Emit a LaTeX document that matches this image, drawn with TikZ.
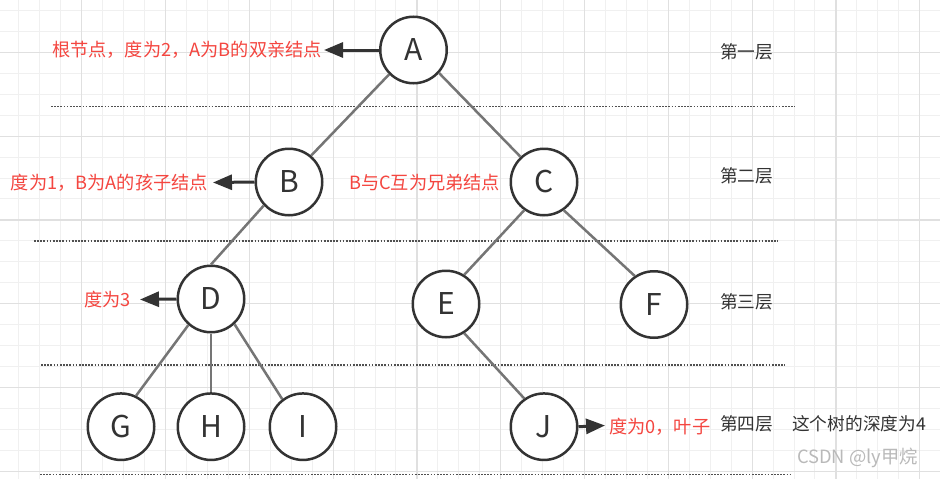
\documentclass[tikz,border=0pt]{standalone}
\usepackage{fontspec}
\setmainfont{Noto Sans CJK SC}
\usetikzlibrary{arrows.meta}
\definecolor{redtxt}{RGB}{244,70,64}
\definecolor{darktxt}{RGB}{51,51,51}
\definecolor{minorgrid}{RGB}{240,240,240}
\definecolor{majorgrid}{RGB}{224,224,224}
\definecolor{edgegray}{RGB}{117,117,117}
\definecolor{wmgray}{RGB}{185,185,185}
\definecolor{dotgray}{RGB}{80,80,80}
\tikzset{
  treenode/.style={circle, draw=darktxt, line width=2.5pt, fill=white, minimum size=66.5pt, inner sep=0pt, font=\fontsize{30}{30}\selectfont, text=darktxt},
  treeedge/.style={draw=edgegray, line width=2.5pt},
  notearrow/.style={draw=darktxt, line width=3pt, -{Triangle[length=19pt,width=15pt]}},
  redlabel/.style={text=redtxt, inner sep=0pt, font=\fontsize{18.2}{18}\selectfont},
  layerlabel/.style={text=darktxt, inner sep=0pt, font=\fontsize{17.7}{18}\selectfont},
  wmlabel/.style={text=wmgray, inner sep=0pt, font=\fontsize{18.3}{18}\selectfont},
  levelline/.style={draw=dotgray, line width=1.1pt, dash pattern=on 1.7pt off 1.45pt},
}
\begin{document}
\begin{tikzpicture}[x=1pt,y=-1pt]
\useasboundingbox (0,0) rectangle (940,479);
\fill[white] (0,0) rectangle (940,479);
% grid
\foreach \i in {0,...,45} {
  \draw[minorgrid, line width=1pt] ({-2.1+20.95*\i},0) -- ({-2.1+20.95*\i},479);
}
\foreach \i in {0,...,23} {
  \draw[minorgrid, line width=1pt] (0,{10.4+20.95*\i}) -- (940,{10.4+20.95*\i});
}
\foreach \i in {0,...,11} {
  \draw[majorgrid, line width=1.2pt] ({-2.1+83.8*\i},0) -- ({-2.1+83.8*\i},479);
}
\foreach \i in {0,...,5} {
  \draw[majorgrid, line width=1.2pt] (0,{52.3+83.8*\i}) -- (940,{52.3+83.8*\i});
}
% level separators
\draw[levelline] (51,106.5) -- (795,106.5);
\draw[levelline] (34,241) -- (778,241);
\draw[levelline] (41,365) -- (785,365);
\draw[levelline] (40,474.3) -- (791,474.3);
% nodes
\node[treenode] (A) at (413.5,50) {A};
\node[treenode] (B) at (289,182) {B};
\node[treenode] (C) at (544,182) {C};
\node[treenode] (D) at (211,299) {D};
\node[treenode] (E) at (446,304) {E};
\node[treenode] (F) at (654,304.5) {F};
\node[treenode] (G) at (121,426.7) {G};
\node[treenode] (H) at (211,426.7) {H};
\node[treenode] (I) at (303,426.7) {I};
\node[treenode] (J) at (544,426.7) {J};
% edges
\draw[treeedge] (A.225) -- (B.50);
\draw[treeedge] (A.318) -- (C.133);
\draw[treeedge] (B.223) -- (D.90);
\draw[treeedge] (C.235) -- (E.58);
\draw[treeedge] (C.305) -- (F.124);
\draw[treeedge] (D.229) -- (G.64);
\draw[treeedge] (D.270) -- (H.90);
\draw[treeedge] (D.313) -- (I.127);
\draw[treeedge] (E.302) -- (J.125);
% annotation arrows
\coordinate (tA) at (324,50);
\coordinate (tB) at (213,182.5);
\coordinate (tD) at (140,299.5);
\coordinate (tJ) at (605,425.5);
\draw[notearrow] (A.west) -- (tA);
\draw[notearrow] (B.west) -- (tB);
\draw[notearrow] (D.west) -- (tD);
\draw[notearrow] (J.east) -- (tJ);
% red labels
\node[redlabel, anchor=east] (lA) at (322,50) {根节点，度为2，A为B的双亲结点};
\node[redlabel, anchor=east] (lB) at (208,183) {度为1，B为A的孩子结点};
\node[redlabel, anchor=west] (lBC) at (349,183) {B与C互为兄弟结点};
\node[redlabel, anchor=east] (lD) at (131,300) {度为3};
\node[redlabel, anchor=west] (lJ) at (609,427) {度为0，叶子};
% layer labels
\node[layerlabel, anchor=west] (L1) at (720,52) {第一层};
\node[layerlabel, anchor=west] (L2) at (720,176) {第二层};
\node[layerlabel, anchor=west] (L3) at (720,302) {第三层};
\node[layerlabel, anchor=west] (L4) at (720,424) {第四层};
\node[layerlabel, anchor=west] (depth) at (792,424) {这个树的深度为4};
\node[wmlabel, anchor=west] (wm) at (797,458) {CSDN @ly甲烷};
\end{tikzpicture}
\end{document}
